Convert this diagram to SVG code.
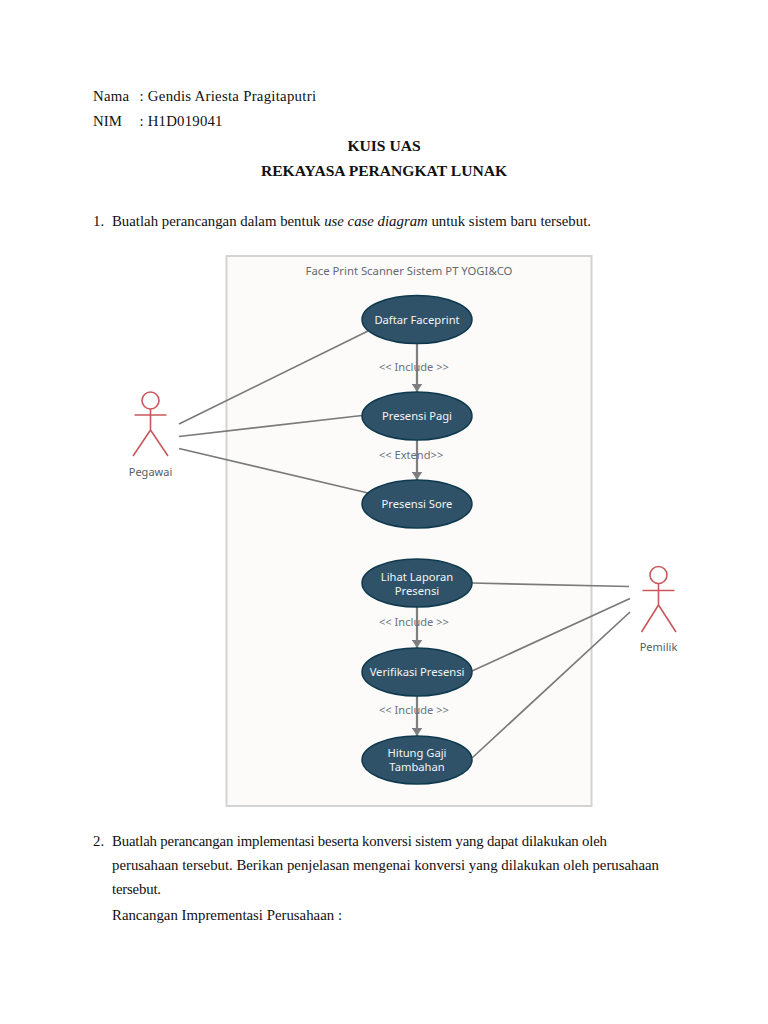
<svg xmlns="http://www.w3.org/2000/svg" width="768" height="1024" viewBox="0 0 768 1024">
<style>
.d{font-family:"Liberation Serif","Times New Roman",serif;font-size:14.8px;fill:#111}
.b{font-weight:bold;text-anchor:middle;font-size:15.6px}
.uc ellipse{fill:#2f5268;stroke:#0f3a4e;stroke-width:1.5}
.uc text{font-family:"Noto Sans","Open Sans",sans-serif;font-size:11.2px;fill:#f2f5f6;text-anchor:middle}
.lbl{font-family:"Noto Sans","Open Sans",sans-serif;font-size:11.1px;fill:#67727e}
.a{stroke:#7a7a7a;stroke-width:1.7;fill:none}
.i{stroke:#7f7f7f;stroke-width:2.2;fill:none;marker-end:url(#ah)}
.act{stroke:#c9585c;stroke-width:1.6;fill:none}
.an{font-family:"Noto Sans","Open Sans",sans-serif;font-size:11px;fill:#555d66;text-anchor:middle}
</style>
<defs><marker id="ah" markerUnits="userSpaceOnUse" markerWidth="9" markerHeight="11" refX="8.500" refY="5.500" orient="auto"><path d="M0 0L8.500 5.500L0 11Z" fill="#7f7f7f"/></marker></defs>
<rect width="768" height="1024" fill="#fff"/>
<text class="d" x="93" y="101" textLength="36">Nama</text><text class="d" x="139.500" y="101" textLength="176.500">: Gendis Ariesta Pragitaputri</text>
<text class="d" x="93" y="126" textLength="29">NIM</text><text class="d" x="139.500" y="126" textLength="83">: H1D019041</text>
<text class="d b" x="384" y="151">KUIS UAS</text>
<text class="d b" x="384" y="176">REKAYASA PERANGKAT LUNAK</text>
<text class="d" x="93" y="226">1.</text>
<text class="d" x="112" y="226" textLength="479">Buatlah perancangan dalam bentuk <tspan font-style="italic">use case diagram</tspan> untuk sistem baru tersebut.</text>
<rect id="system" x="226.500" y="256" width="365" height="550" fill="#fcfbfa" stroke="#d3d3d3" stroke-width="2"/>
<text x="409" y="275" style="font-family:'Noto Sans',sans-serif;font-size:11.300px;fill:#5f6a74;text-anchor:middle">Face Print Scanner Sistem PT YOGI&amp;CO</text>
<g id="connectors">
<path class="a" d="M179 424L368 331M179 436.500L362 415.500M179 448.500L368 493"/>
<path class="a" d="M472 583L629 586.500M472 671L630 598.500M472 758L630 612"/>
<path class="i" d="M417 343V392"/><path class="i" d="M417 440V480"/>
<path class="i" d="M417 607V648"/><path class="i" d="M417 696V736"/>
</g>
<text class="lbl" x="379" y="371">&lt;&lt; Include &gt;&gt;</text>
<text class="lbl" x="379" y="459">&lt;&lt; Extend&gt;&gt;</text>
<text class="lbl" x="379" y="626">&lt;&lt; Include &gt;&gt;</text>
<text class="lbl" x="379" y="714">&lt;&lt; Include &gt;&gt;</text>
<g id="uc1" class="uc"><ellipse cx="417" cy="319.500" rx="55" ry="24"/><text x="417" y="324">Daftar Faceprint</text></g>
<g id="uc2" class="uc"><ellipse cx="417" cy="416" rx="55" ry="24"/><text x="417" y="420">Presensi Pagi</text></g>
<g id="uc3" class="uc"><ellipse cx="417" cy="504" rx="55" ry="24"/><text x="417" y="508">Presensi Sore</text></g>
<g id="uc4" class="uc"><ellipse cx="417" cy="583" rx="55" ry="24"/><text x="417" y="581">Lihat Laporan</text><text x="417" y="595">Presensi</text></g>
<g id="uc5" class="uc"><ellipse cx="417" cy="672" rx="55" ry="24"/><text x="417" y="676">Verifikasi Presensi</text></g>
<g id="uc6" class="uc"><ellipse cx="417" cy="760" rx="55" ry="24"/><text x="417" y="757">Hitung Gaji</text><text x="417" y="771">Tambahan</text></g>
<g id="pegawai"><circle class="act" cx="150.500" cy="400.500" r="8.500"/><path class="act" d="M150.500 409V430M134.500 415H166.500M150.500 430L133 456M150.500 430L168 456"/><text class="an" x="150.500" y="476">Pegawai</text></g>
<g id="pemilik"><circle class="act" cx="658.500" cy="575" r="8.500"/><path class="act" d="M658.500 583.500V605M642.500 590.500H674.500M658.500 605L641.500 632M658.500 605L676 632"/><text class="an" x="658.500" y="651">Pemilik</text></g>
<text class="d" x="93" y="846">2.</text>
<text class="d" x="112" y="846" textLength="495">Buatlah perancangan implementasi beserta konversi sistem yang dapat dilakukan oleh</text>
<text class="d" x="112" y="870" textLength="547">perusahaan tersebut. Berikan penjelasan mengenai konversi yang dilakukan oleh perusahaan</text>
<text class="d" x="112" y="894" textLength="49">tersebut.</text>
<text class="d" x="112" y="920" textLength="230">Rancangan Imprementasi Perusahaan :</text>
</svg>
